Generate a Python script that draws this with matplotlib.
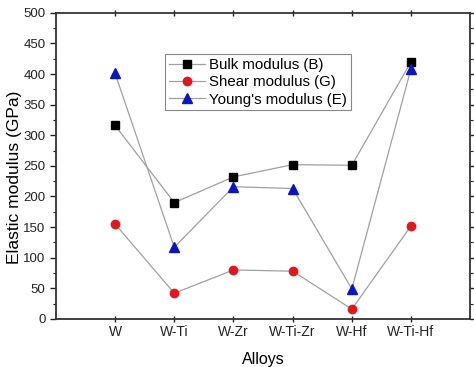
import numpy as np
import matplotlib.pyplot as plt
from matplotlib.ticker import MultipleLocator

plt.rcParams['font.family'] = ['Liberation Sans', 'DejaVu Sans']

alloys = ['W', 'W-Ti', 'W-Zr', 'W-Ti-Zr', 'W-Hf', 'W-Ti-Hf']
bulk = [316, 190, 232, 252, 251, 420]
shear = [155, 42, 80, 78, 16, 152]
young = [401, 117, 216, 213, 49, 409]

x = np.arange(1, len(alloys) + 1)

fig = plt.figure(figsize=(4.74, 3.67), dpi=100)
ax = fig.add_axes([0.118, 0.131, 0.874, 0.834])

line_col = '#a0a0a0'
ax.plot(x, bulk, color=line_col, lw=0.9, marker='s', ms=5.5,
        mfc='black', mec='black', label='Bulk modulus (B)')
ax.plot(x, shear, color=line_col, lw=0.9, marker='o', ms=6,
        mfc='#e8141c', mec='#e8141c', label='Shear modulus (G)')
ax.plot(x, young, color=line_col, lw=0.9, marker='^', ms=6.5,
        mfc='#0a14c8', mec='#0a14c8', label="Young's modulus (E)")

ax.set_xlim(0, 7)
ax.set_ylim(0, 500)
ax.set_xticks(x)
ax.set_xticklabels(alloys)
ax.yaxis.set_major_locator(MultipleLocator(50))
ax.yaxis.set_minor_locator(MultipleLocator(25))

for s in ax.spines.values():
    s.set_color('#333333')
    s.set_linewidth(1.3)

ax.tick_params(axis='y', which='both', direction='out', right=True,
               labelsize=9.5, colors='#222222')
ax.tick_params(axis='y', which='major', length=4, width=1)
ax.tick_params(axis='y', which='minor', length=2.5, width=0.8)
ax.tick_params(axis='x', which='major', direction='inout', top=True,
               length=5, width=1, labelsize=10, colors='#222222', pad=2)

ax.set_xlabel('Alloys', fontsize=11.5, labelpad=9)
ax.set_ylabel('Elastic modulus (GPa)', fontsize=12.5)
ax.yaxis.set_label_coords(-0.083, 0.464)

leg = ax.legend(loc='upper left', bbox_to_anchor=(0.263, 0.865), fontsize=10.8,
                handlelength=2.4, handletextpad=0.3, borderpad=0.25,
                labelspacing=0.22, fancybox=False, framealpha=1,
                edgecolor='#888888', borderaxespad=0)
leg.get_frame().set_linewidth(0.8)

fig.savefig('out.png', dpi=100)
